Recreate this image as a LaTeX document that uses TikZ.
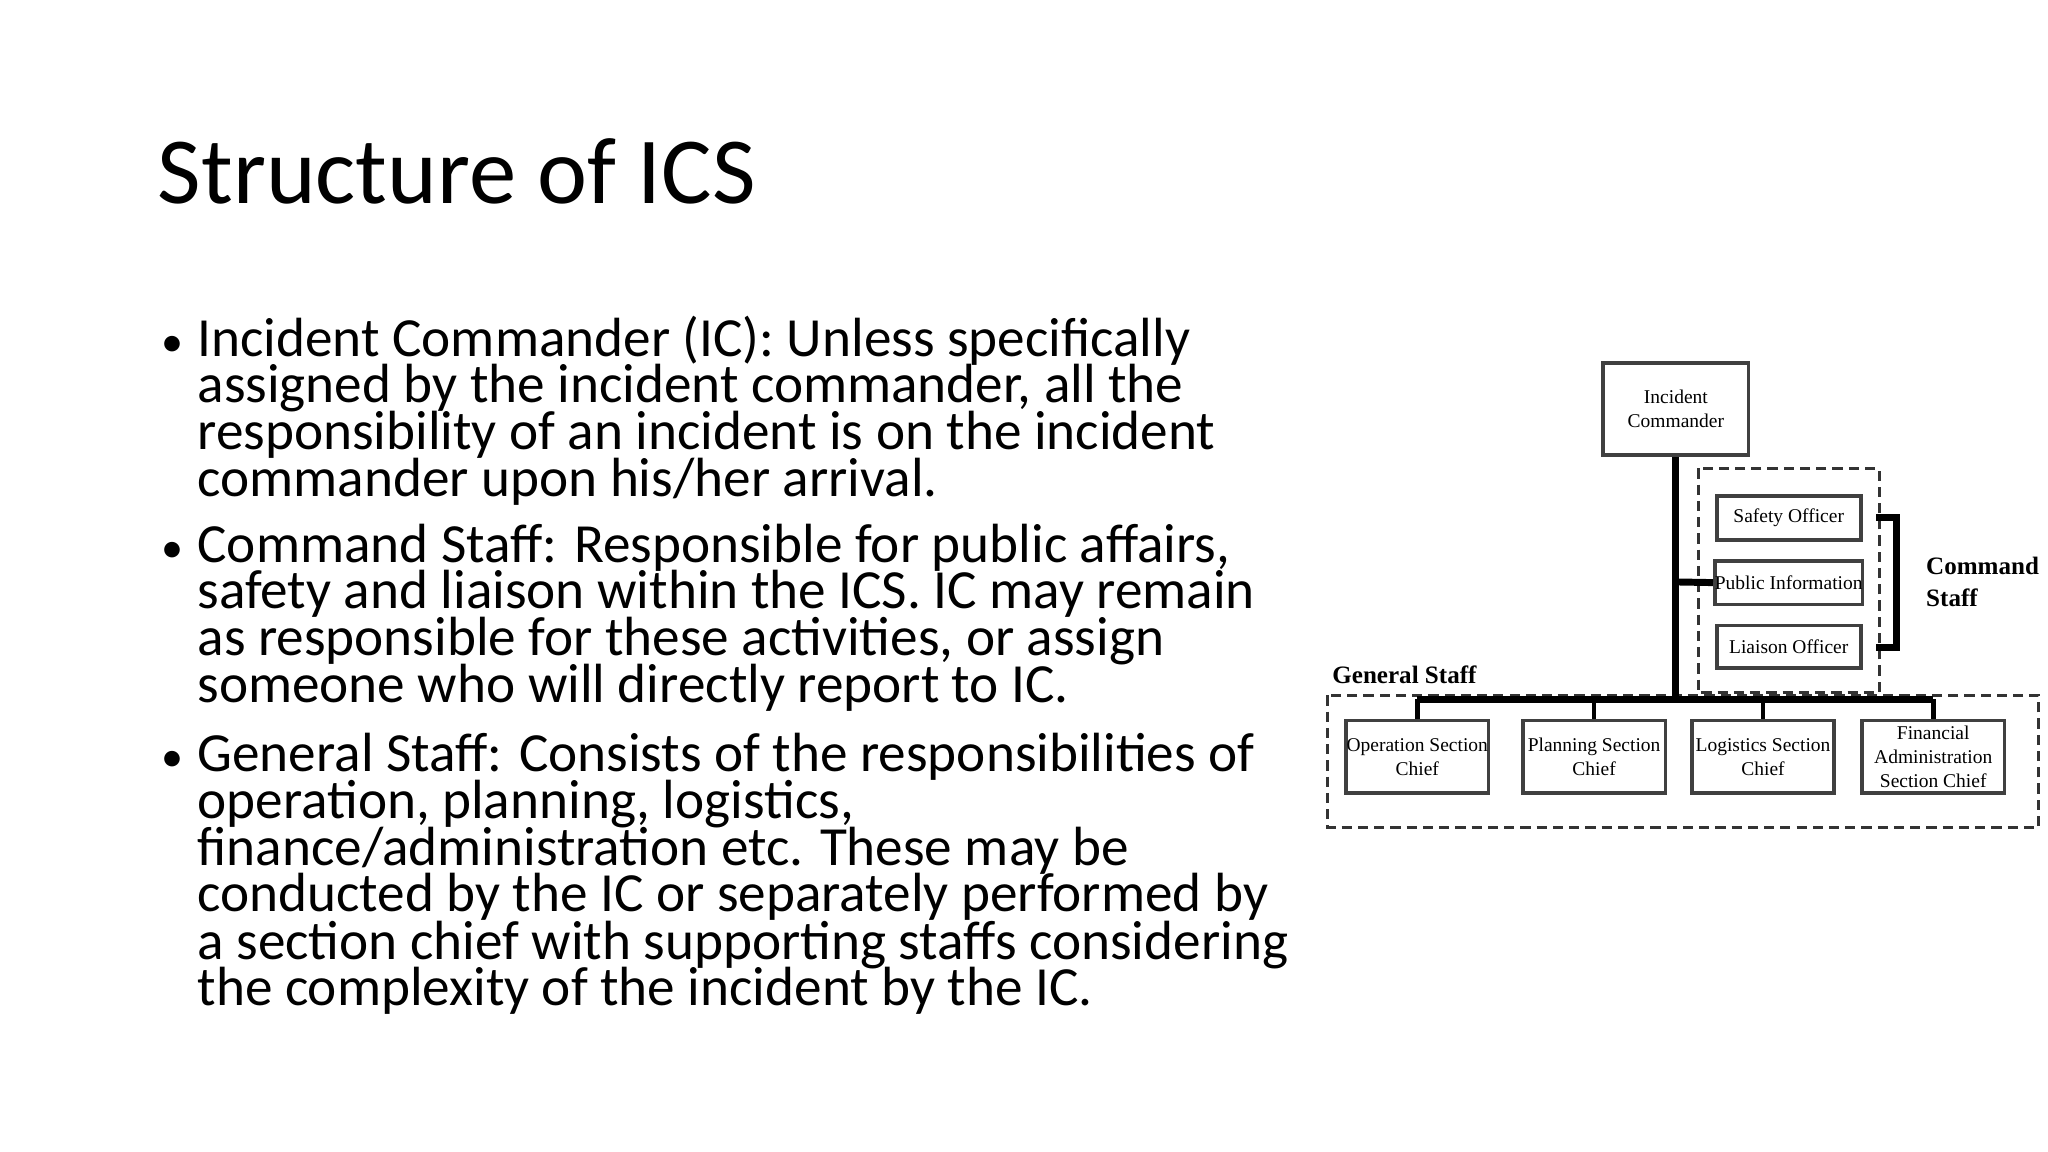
\documentclass[tikz,border=0pt]{standalone}
\usepackage{fontspec}
\setmainfont{Carlito}
\newfontfamily\dgfont{Liberation Serif}
\begin{document}
\begin{tikzpicture}[x=0.01cm,y=-0.01cm,
  ln/.style={anchor=base west,inner sep=0,font=\fontsize{11.9}{12}\selectfont},
  bx/.style={draw=black!75,line width=0.8pt,fill=white,font=\dgfont\fontsize{4.2}{5.2}\selectfont,align=center,inner sep=0},
  dsh/.style={draw=black!80,line width=0.7pt,dash pattern=on 2.2pt off 1.3pt},
  ed/.style={line width=1.5pt}]
\useasboundingbox (0,0) rectangle (1552,873);
\node[anchor=base west,inner sep=0,font=\fontsize{20.4}{22}\selectfont] (title) at (119,154) {Structure of ICS};
% bullets
\foreach \y/\n in {270/b1,426/b2,585/b3}
  \node[anchor=base west,inner sep=0,font=\fontsize{9.5}{12}\selectfont] (\n) at (122,\y) {•};
\node[ln] (l1) at (149,270) {Incident Commander (IC): Unless specifically};
\node[ln] (l2) at (149,305) {assigned by the incident commander, all the};
\node[ln] (l3) at (149,341) {responsibility of an incident is on the incident};
\node[ln] (l4) at (149,376) {commander upon his/her arrival.};
\node[ln] (l5) at (149,426) {Command Staff: Responsible for public affairs,};
\node[ln] (l6) at (149,461) {safety and liaison within the ICS. IC may remain};
\node[ln] (l7) at (149,497) {as responsible for these activities, or assign};
\node[ln] (l8) at (149,532) {someone who will directly report to IC.};
\node[ln] (l9) at (149,585) {General Staff: Consists of the responsibilities of};
\node[ln] (l10) at (149,620) {operation, planning, logistics,};
\node[ln] (l11) at (149,656) {finance/administration etc. These may be};
\node[ln] (l12) at (149,691) {conducted by the IC or separately performed by};
\node[ln] (l13) at (149,727) {a section chief with supporting staffs considering};
\node[ln] (l14) at (149,762) {the complexity of the incident by the IC.};
% diagram
\draw[dsh] (1006,527) rectangle (1545,627);
\draw[dsh] (1287,355) rectangle (1424,525);
\coordinate (top) at (1270,345);
\coordinate (bar) at (1270,530);
\coordinate (bl) at (1074,530);
\coordinate (br) at (1465,530);
\draw[ed] (top) -- (bar);
\draw[ed] (bl) -- (br);
\node[bx,minimum width=1.10cm,minimum height=0.70cm] (ic) at (1270,310) {Incident\\Commander};
\node[bx,minimum width=1.09cm,minimum height=0.33cm] (so) at (1355.5,392.5) {Safety Officer};
\node[bx,minimum width=1.09cm,minimum height=0.33cm] (pi) at (1355.5,441.5) {Public Information};
\node[bx,minimum width=1.09cm,minimum height=0.32cm] (lo) at (1355.5,490) {Liaison Officer};
\draw[ed] (1270,441) -- (pi.west);
\draw[ed] (1422,392) -- (1437,392) -- (1437,491) -- (1422,491);
\node[anchor=west,font=\dgfont\bfseries\fontsize{5.4}{7}\selectfont,align=left,inner sep=0] (cs) at (1459,441) {Command\\Staff};
\node[anchor=base west,font=\dgfont\bfseries\fontsize{5.4}{7}\selectfont,inner sep=0] (gs) at (1009,518) {General Staff};
\foreach \n/\x/\t in {op/1074/{Operation Section\\Chief},pl/1208/{Planning Section\\Chief},lg/1336/{Logistics Section\\Chief},fa/1465/{Financial\\Administration\\Section Chief}}{
  \node[bx,minimum width=1.08cm,minimum height=0.55cm] (\n) at (\x,573.5) {\t};
  \draw[line width=1pt] (\x,530) -- (\n.north);
}
\end{tikzpicture}
\end{document}
